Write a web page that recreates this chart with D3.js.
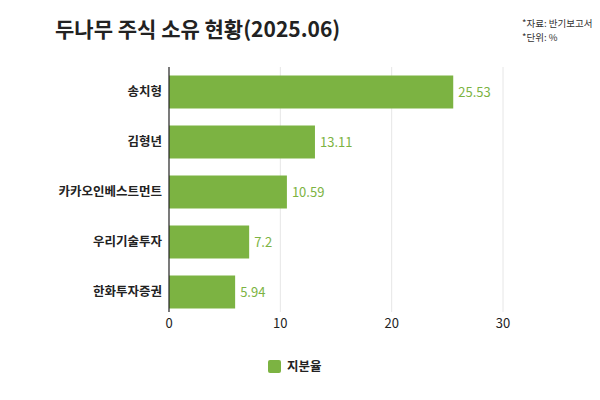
<!DOCTYPE html>
<html>
<head>
<meta charset="utf-8">
<script src="https://d3js.org/d3.v7.min.js"></script>
<style>
  body { margin: 0; background: #fff; }
  text { font-family: "Noto Sans CJK KR", "Noto Sans", sans-serif; }
</style>
</head>
<body>
<svg id="chart" width="600" height="400"></svg>
<script>
  const categories = ["송치형", "김형년", "카카오인베스트먼트", "우리기술투자", "한화투자증권"];
  const values = [25.53, 13.11, 10.59, 7.2, 5.94];
  const ticks = [0, 10, 20, 30];
  const barColor = "#7cb342";

  const svg = d3.select("#chart");
  const x = d3.scaleLinear().domain([0, 30]).range([169, 503]);
  const y = d3.scaleBand().domain(categories).range([67, 317]).paddingInner(0.34).paddingOuter(0.17);

  svg.append("text").attr("x", 55).attr("y", 37)
    .attr("font-size", 21).attr("font-weight", "bold").attr("fill", "#222")
    .text("두나무 주식 소유 현황(2025.06)");
  svg.append("text").attr("x", 522).attr("y", 27).attr("font-size", 9.5).attr("fill", "#333").text("*자료: 반기보고서");
  svg.append("text").attr("x", 522).attr("y", 41).attr("font-size", 9.5).attr("fill", "#333").text("*단위: %");

  // 세로 격자선
  svg.append("g").selectAll("line").data(ticks.slice(1)).join("line")
    .attr("x1", d => x(d)).attr("x2", d => x(d))
    .attr("y1", 67).attr("y2", 312)
    .attr("stroke", "#e6e6e6");

  svg.append("g").selectAll("rect").data(values).join("rect")
    .attr("x", x(0)).attr("y", (d, i) => y(categories[i]))
    .attr("width", d => x(d) - x(0)).attr("height", y.bandwidth())
    .attr("fill", barColor);

  svg.append("g").selectAll("text").data(values).join("text")
    .attr("x", d => x(d) + 5).attr("y", (d, i) => y(categories[i]) + y.bandwidth() / 2)
    .attr("dy", "0.35em").attr("font-size", 13).attr("fill", barColor)
    .text(d => d);

  svg.append("g").selectAll("text").data(categories).join("text")
    .attr("x", 162).attr("y", d => y(d) + y.bandwidth() / 2)
    .attr("dy", "0.35em").attr("text-anchor", "end")
    .attr("font-size", 12.5).attr("font-weight", "bold").attr("fill", "#222")
    .text(d => d);

  svg.append("line").attr("x1", x(0)).attr("x2", x(0)).attr("y1", 67).attr("y2", 312)
    .attr("stroke", "#222").attr("stroke-width", 1.2);

  svg.append("g").selectAll("text").data(ticks).join("text")
    .attr("x", d => x(d)).attr("y", 328).attr("text-anchor", "middle")
    .attr("font-size", 13).attr("fill", "#222").text(d => d);

  svg.append("rect").attr("x", 268).attr("y", 360).attr("width", 13).attr("height", 13).attr("rx", 2).attr("fill", barColor);
  svg.append("text").attr("x", 287).attr("y", 371).attr("font-size", 12.5).attr("font-weight", "bold").attr("fill", "#222").text("지분율");
</script>
</body>
</html>
